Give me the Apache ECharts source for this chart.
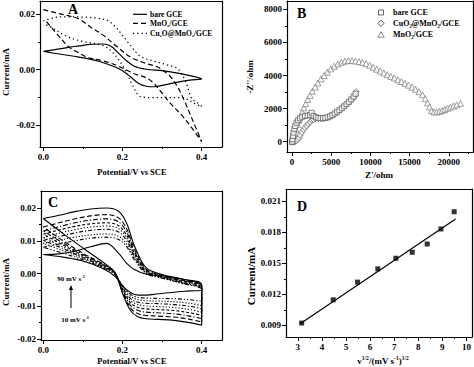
<!DOCTYPE html>
<html><head><meta charset="utf-8">
<script src="https://cdn.jsdelivr.net/npm/echarts@6/dist/echarts.min.js"></script>
<style>html,body{margin:0;padding:0;background:#fff}#c{width:474px;height:367px}</style>
</head><body><div id="c"></div>
<script>
// ---------- Panel A : CVs of three electrodes ----------
const aBareE = [0,0.03,0.06,0.09,0.12,0.15,0.17,0.19,0.21,0.23,0.26,0.30,0.34,0.37,0.40,0.37,0.34,0.31,0.28,0.26,0.24,0.22,0.20,0.18,0.14,0.09,0.04,0];
const aBareI = [0.0066,0.0072,0.0079,0.0085,0.0091,0.0092,0.0085,0.0059,0.0032,0.0012,0.0001,-0.0004,-0.0013,-0.0022,-0.0034,-0.0038,-0.0045,-0.0054,-0.0062,-0.0060,-0.0049,-0.0026,-0.0004,0.0010,0.0030,0.0045,0.0056,0.0066];
const aMnE = [0,0.03,0.06,0.09,0.12,0.15,0.185,0.22,0.26,0.29,0.32,0.34,0.355,0.375,0.40,0.375,0.35,0.32,0.30,0.278,0.26,0.23,0.19,0.15,0.113,0.088,0.063,0.047,0.025,0.004];
const aMnI = [0.0216,0.0205,0.0195,0.0182,0.0152,0.0125,0.0084,0.0045,0.0022,0.0008,-0.0024,-0.0065,-0.0108,-0.0175,-0.0260,-0.0210,-0.0165,-0.0120,-0.0085,-0.0048,-0.0030,-0.0015,0.0012,0.0032,0.0043,0.0061,0.0083,0.0108,0.0144,0.0180];
const aCuE = [0,0.03,0.06,0.10,0.13,0.16,0.18,0.195,0.215,0.245,0.28,0.31,0.34,0.36,0.375,0.39,0.40,0.385,0.36,0.345,0.31,0.277,0.245,0.227,0.202,0.168,0.143,0.10,0.06,0.017,0];
const aCuI = [0.0175,0.0188,0.0190,0.0189,0.0186,0.0178,0.0158,0.0132,0.0096,0.0048,0.0030,0.0018,0.0002,-0.0045,-0.0105,-0.0120,-0.0133,-0.0125,-0.0105,-0.0101,-0.0101,-0.0101,-0.0097,-0.0061,0.0011,0.0072,0.0090,0.0101,0.0119,0.0155,0.0165];
const aNames = ['bare GCE','MnO\u2082/GCE','Cu\u2082O@MnO\u2082/GCE'];

// ---------- Panel B : Nyquist plots ----------
const bBareX = [20,60,120,200,300,420,580,780,1020,1300,1650,2000,2300,2500,2750,3050,3350,3650,3950,4250,4550,4850,5150,5450,5750,6050,6350,6650,6950,7250,7550,7850,8100];
const bBareY = [0,150,350,550,780,950,1150,1300,1420,1510,1560,1580,1620,1750,1560,1480,1440,1420,1420,1440,1480,1540,1620,1710,1810,1910,2020,2140,2270,2410,2560,2730,2900];
const bCuX = [50,150,300,450,600,750,900,1050,1250,1450,1650,1870,2100,2300,2550,2750,3000,3350,3700,4050,4400,4750,5100,5450,5800,6150,6500,6850,7200,7550,7850,8100,8200];
const bCuY = [0,10,20,40,80,140,250,400,560,720,850,960,1080,1180,1290,1340,1390,1400,1390,1400,1430,1480,1560,1670,1790,1920,2050,2190,2340,2500,2660,2830,3020];
const bMnX = [50,100,150,300,500,700,900,1100,1300,1500,1750,2000,2300,2600,2950,3300,3700,4100,4500,4950,5400,5850,6300,6750,7200,7650,8100,8550,9000,9450,9900,10350,10800,11250,11700,12150,12600,13050,13500,13950,14400,14850,15300,15750,16200,16650,17000,17300,17550,17800,18100,18450,18800,19150,19500,19850,20200,20600,21000,21500];
const bMnY = [0,150,100,400,750,1050,1300,1550,1800,2050,2300,2550,2800,3050,3300,3550,3800,4000,4200,4400,4560,4700,4800,4870,4900,4900,4880,4840,4790,4720,4620,4500,4380,4270,4160,4050,3950,3850,3740,3640,3530,3420,3300,3170,3020,2840,2600,2350,2100,1880,1800,1800,1830,1880,1950,2020,2090,2160,2230,2320];
const bNames = ['bare GCE','CuO\u2082@MnO\u2082/GCE','MnO\u2082/GCE'];

// ---------- Panel C : CVs at 10-90 mV/s ----------
const cE = [0,0.04,0.08,0.12,0.16,0.19,0.21,0.23,0.26,0.30,0.35,0.40, 0.40,0.37,0.33,0.29,0.26,0.24,0.22,0.20,0.18,0.15,0.10,0.05,0];
const c90 = [0.0168,0.0178,0.0189,0.0197,0.0200,0.0190,0.0155,0.0085,0.0017,-0.0003,-0.0017,-0.0036, -0.0158,-0.0150,-0.0143,-0.0140,-0.0138,-0.0133,-0.0113,-0.0060,0.0005,0.0035,0.0078,0.0122,0.0168];
const c80 = [0.0142,0.0155,0.0167,0.0176,0.0180,0.0170,0.0138,0.0075,0.0013,-0.0006,-0.0020,-0.0040, -0.0148,-0.0140,-0.0133,-0.0130,-0.0128,-0.0123,-0.0105,-0.0056,0.0004,0.0030,0.0062,0.0100,0.0142];
const c70 = [0.0130,0.0143,0.0155,0.0163,0.0167,0.0158,0.0128,0.0068,0.0010,-0.0008,-0.0022,-0.0042, -0.0138,-0.0130,-0.0123,-0.0120,-0.0118,-0.0113,-0.0097,-0.0052,0.0003,0.0028,0.0058,0.0093,0.0130];
const c60 = [0.0120,0.0133,0.0144,0.0152,0.0155,0.0146,0.0118,0.0062,0.0008,-0.0010,-0.0024,-0.0044, -0.0128,-0.0120,-0.0113,-0.0110,-0.0108,-0.0104,-0.0089,-0.0048,0.0002,0.0026,0.0055,0.0087,0.0120];
const c50 = [0.0110,0.0123,0.0134,0.0142,0.0145,0.0137,0.0110,0.0057,0.0006,-0.0011,-0.0026,-0.0046, -0.0118,-0.0110,-0.0104,-0.0101,-0.0099,-0.0095,-0.0082,-0.0045,0.0001,0.0024,0.0052,0.0081,0.0110];
const c40 = [0.0101,0.0113,0.0124,0.0132,0.0135,0.0127,0.0102,0.0052,0.0004,-0.0012,-0.0028,-0.0048, -0.0108,-0.0100,-0.0095,-0.0092,-0.0091,-0.0088,-0.0076,-0.0042,0.0000,0.0022,0.0049,0.0076,0.0101];
const c30 = [0.0092,0.0102,0.0111,0.0118,0.0121,0.0114,0.0091,0.0046,0.0002,-0.0013,-0.0029,-0.0049, -0.0098,-0.0091,-0.0086,-0.0084,-0.0083,-0.0080,-0.0069,-0.0039,-0.0001,0.0020,0.0046,0.0070,0.0092];
const c20 = [0.0080,0.0090,0.0100,0.0108,0.0111,0.0104,0.0083,0.0042,0.0000,-0.0014,-0.0030,-0.0050, -0.0085,-0.0080,-0.0077,-0.0076,-0.0075,-0.0073,-0.0063,-0.0036,-0.0002,0.0018,0.0042,0.0062,0.0080];
const c10 = [0.0058,0.0060,0.0068,0.0082,0.0092,0.0062,0.0032,0.0012,-0.0002,-0.0007,-0.0017,-0.0036, -0.0050,-0.0053,-0.0057,-0.0062,-0.0066,-0.0066,-0.0058,-0.0038,-0.0008,0.0015,0.0038,0.0050,0.0058];
const cCurves = [c90,c80,c70,c60,c50,c40,c30,c20,c10];

// ---------- Panel D : peak current vs sqrt(scan rate) ----------
const dX = [3.16,4.47,5.48,6.32,7.07,7.75,8.37,8.94,9.49];
const dY = [0.00923,0.01148,0.01319,0.01447,0.0155,0.01608,0.01688,0.01833,0.0200];
const dFitX = [3.10,9.55];
const dFitY = [0.00916,0.01929];

// ---------- tick values / labels ----------
const aXTicks = [0,0.2,0.4], aXLabels = ['0.0','0.2','0.4'], aXMinor = [0.1,0.3];
const aYTicks = [-0.02,0,0.02], aYLabels = ['-0.02','0.00','0.02'], aYMinor = [-0.01,0.01];
const bXTicks = [0,5000,10000,15000,20000], bXLabels = ['0','5000','10000','15000','20000'], bXMinor = [2500,7500,12500,17500,22500];
const bYTicks = [0,2000,4000,6000,8000], bYLabels = ['0','2000','4000','6000','8000'], bYMinor = [1000,3000,5000,7000];
const cXTicks = aXTicks, cXLabels = aXLabels, cXMinor = aXMinor;
const cYTicks = [-0.02,-0.01,0,0.01,0.02], cYLabels = ['-0.02','-0.01','0.00','0.01','0.02'], cYMinor = [-0.015,-0.005,0.005,0.015];
const dXTicks = [3,4,5,6,7,8,9,10], dXLabels = ['3','4','5','6','7','8','9','10'], dXMinor = [2.5,3.5,4.5,5.5,6.5,7.5,8.5,9.5];
const dYTicks = [0.009,0.012,0.015,0.018,0.021], dYLabels = ['0.009','0.012','0.015','0.018','0.021'], dYMinor = [0.0105,0.0135,0.0165,0.0195];

const FONT = '"Liberation Serif","DejaVu Serif",serif';
const zip = (a,b) => a.map((v,i)=>[v,b[i]]);
const lab = (ticks, labels) => v => { for (let i=0;i<ticks.length;i++) if (Math.abs(ticks[i]-v) < 1e-9*Math.max(1,Math.abs(v))+1e-12) return labels[i]; return ''; };

const grids = [
  {left:40, top:1, width:182, height:146},
  {left:287, top:1, width:186, height:151},
  {left:41, top:191, width:181, height:149},
  {left:286, top:189, width:186, height:148}
];
const xAxes = [], yAxes = [];
function addAxes(g, xr, xt, xl, xm, yr, yt, yl, ym) {
  const lineS = {show:true, onZero:false, lineStyle:{color:'#000', width:1.2}};
  const noLine = {show:false, onZero:false};
  const labS = {fontFamily:FONT, fontWeight:'bold', fontSize:9, color:'#000'};
  const xi = xAxes.length;
  xAxes.push({type:'value', gridIndex:g, position:'bottom', min:xr[0], max:xr[1], axisLine:lineS,
    axisTick:{show:true, inside:false, length:4, customValues:xt, lineStyle:{color:'#000', width:1}},
    axisLabel:Object.assign({show:true, margin:5, customValues:xt, formatter:lab(xt,xl)}, labS), splitLine:{show:false}});
  xAxes.push({type:'value', gridIndex:g, position:'bottom', min:xr[0], max:xr[1], axisLine:noLine,
    axisTick:{show:true, inside:false, length:2, customValues:xm, lineStyle:{color:'#000', width:1}},
    axisLabel:{show:false}, splitLine:{show:false}});
  xAxes.push({type:'value', gridIndex:g, position:'top', min:xr[0], max:xr[1], axisLine:lineS,
    axisTick:{show:false}, axisLabel:{show:false}, splitLine:{show:false}});
  const yi = yAxes.length;
  yAxes.push({type:'value', gridIndex:g, position:'left', min:yr[0], max:yr[1], axisLine:lineS,
    axisTick:{show:true, inside:false, length:4, customValues:yt, lineStyle:{color:'#000', width:1}},
    axisLabel:Object.assign({show:true, margin:5, customValues:yt, formatter:lab(yt,yl)}, labS), splitLine:{show:false}});
  yAxes.push({type:'value', gridIndex:g, position:'left', min:yr[0], max:yr[1], axisLine:noLine,
    axisTick:{show:true, inside:false, length:2, customValues:ym, lineStyle:{color:'#000', width:1}},
    axisLabel:{show:false}, splitLine:{show:false}});
  yAxes.push({type:'value', gridIndex:g, position:'right', min:yr[0], max:yr[1], axisLine:lineS,
    axisTick:{show:false}, axisLabel:{show:false}, splitLine:{show:false}});
  return {x:xi, y:yi};
}
const axA = addAxes(0, [-0.0083,0.4513], aXTicks, aXLabels, aXMinor, [-0.0279,0.0247], aYTicks, aYLabels, aYMinor);
const axB = addAxes(1, [-640,23090], bXTicks, bXLabels, bXMinor, [-620,8500], bYTicks, bYLabels, bYMinor);
const axC = addAxes(2, [-0.0058,0.4513], cXTicks, cXLabels, cXMinor, [-0.0203,0.0252], cYTicks, cYLabels, cYMinor);
const axD = addAxes(3, [2.51,10.23], dXTicks, dXLabels, dXMinor, [0.00788,0.0222], dYTicks, dYLabels, dYMinor);

const series = [];
function lineS(ax, name, xs, ys, dash, w) {
  series.push({type:'line', name, xAxisIndex:ax.x, yAxisIndex:ax.y, data:zip(xs,ys), showSymbol:false, smooth:0.35,
    lineStyle:{color:'#000', width:w||1.2, type:dash}, silent:true, animation:false});
}
lineS(axA, aNames[0], aBareE, aBareI, 'solid');
lineS(axA, aNames[1], aMnE, aMnI, [5,3]);
lineS(axA, aNames[2], aCuE, aCuI, [1.3,3]);

function scat(ax, name, xs, ys, sym, color, size) {
  series.push({type:'scatter', name, xAxisIndex:ax.x, yAxisIndex:ax.y, data:zip(xs,ys), symbol:sym, symbolSize:size,
    itemStyle:{color:'#fff', borderColor:color, borderWidth:0.9}, silent:true, animation:false});
}
scat(axB, bNames[2], bMnX, bMnY, 'triangle', '#7a7a7a', 6);
scat(axB, bNames[1], bCuX, bCuY, 'diamond', '#555', 6);
scat(axB, bNames[0], bBareX, bBareY, 'rect', '#555', 5);

const cDash = ['solid',[5,2.5],[5,2,1.2,2],[3,2],[1.2,2],[4,2,1.2,2],[1.2,1.8],[4,2,1.2,2,1.2,2],'solid'];
cCurves.forEach((arr,i)=> lineS(axC, (90-10*i)+' mV/s', cE, arr, cDash[i], 1.1));

series.push({type:'line', name:'fit', xAxisIndex:axD.x, yAxisIndex:axD.y, data:zip(dFitX,dFitY), showSymbol:false,
  lineStyle:{color:'#000', width:1.2}, silent:true, animation:false});
series.push({type:'scatter', name:'Ip', xAxisIndex:axD.x, yAxisIndex:axD.y, data:zip(dX,dY), symbol:'rect', symbolSize:5,
  itemStyle:{color:'#000'}, silent:true, animation:false});

function T(x,y,text,size,extra) {
  return {type:'text', x, y, z:100, style:Object.assign({text, fontFamily:FONT, fontWeight:'bold', fontSize:size, fill:'#000', align:'left', verticalAlign:'middle'}, extra||{})};
}
function TR(x,y,text,size) { // rotated, reading upward
  return {type:'text', x, y, rotation:Math.PI/2, z:100, style:{text, fontFamily:FONT, fontWeight:'bold', fontSize:size, fill:'#000', align:'center', verticalAlign:'middle'}};
}
const supRich = (big, small, lh) => ({
  a:{fontFamily:FONT, fontWeight:'bold', fontSize:big, fill:'#000', lineHeight:lh, verticalAlign:'bottom'},
  s:{fontFamily:FONT, fontWeight:'bold', fontSize:small, fill:'#000', lineHeight:lh, verticalAlign:'middle', padding:[0,0,4,0]}
});
const graphic = [
  // panel letters
  T(68,9,'A',14), T(297,13,'B',14), T(48,202,'C',14), T(297,206,'D',14),
  // axis titles
  TR(6,72,'Current/mA',9), T(132,172,'Potential/V vs SCE',8.5,{align:'center'}),
  TR(250,77,"-Z''/ohm",9), T(379,175,"Z'/ohm",9,{align:'center'}),
  TR(6,282,'Current/mA',9), T(132,361,'Potential/V vs SCE',8.5,{align:'center'}),
  TR(251,276,'Current/mA',11),
  {type:'text', x:383, y:360, z:100, style:{text:'{a|v}{s|1/2}{a|/(mV s}{s|-1}{a|)}{s|1/2}', rich:supRich(9,5.5,11), align:'center', verticalAlign:'middle'}},
  // legend A
  {type:'line', z:100, shape:{x1:133,y1:14.3,x2:147,y2:14.3}, style:{stroke:'#000', lineWidth:1.2}},
  {type:'line', z:100, shape:{x1:133,y1:23.3,x2:147,y2:23.3}, style:{stroke:'#000', lineWidth:1.2, lineDash:[5,3]}},
  {type:'line', z:100, shape:{x1:133,y1:33.3,x2:147,y2:33.3}, style:{stroke:'#000', lineWidth:1.2, lineDash:[1.3,3]}},
  T(150,14.3,aNames[0],7.5), T(150,23.3,aNames[1],7.5), T(150,33.3,aNames[2],7.5),
  // legend B
  {type:'rect', z:100, shape:{x:378.5,y:10,width:5,height:5}, style:{fill:'#fff', stroke:'#555', lineWidth:0.9}},
  {type:'polygon', z:100, shape:{points:[[381,20],[384,23.3],[381,26.6],[378,23.3]]}, style:{fill:'#fff', stroke:'#555', lineWidth:0.9}},
  {type:'polygon', z:100, shape:{points:[[381,31.7],[384.2,37.2],[377.8,37.2]]}, style:{fill:'#fff', stroke:'#7a7a7a', lineWidth:0.9}},
  T(393,12.3,bNames[0],8), T(393,23.3,bNames[1],8), T(393,34.7,bNames[2],8),
  // panel C annotations
  {type:'text', x:71, y:278, z:100, style:{text:'{a|90 mV s}{s|-1}', rich:supRich(7,4.5,9), align:'center', verticalAlign:'middle'}},
  {type:'text', x:75, y:319, z:100, style:{text:'{a|10 mV s}{s|-1}', rich:supRich(7,4.5,9), align:'center', verticalAlign:'middle'}},
  {type:'line', z:100, shape:{x1:71,y1:308,x2:71,y2:289}, style:{stroke:'#000', lineWidth:1}},
  {type:'polygon', z:100, shape:{points:[[69,290],[73,290],[71,285]]}, style:{fill:'#000'}}
];

const chart = echarts.init(document.getElementById('c'), null, {renderer:'svg', width:474, height:367});
chart.setOption({backgroundColor:'#fff', animation:false, grid:grids, xAxis:xAxes, yAxis:yAxes, series, graphic});
</script></body></html>
